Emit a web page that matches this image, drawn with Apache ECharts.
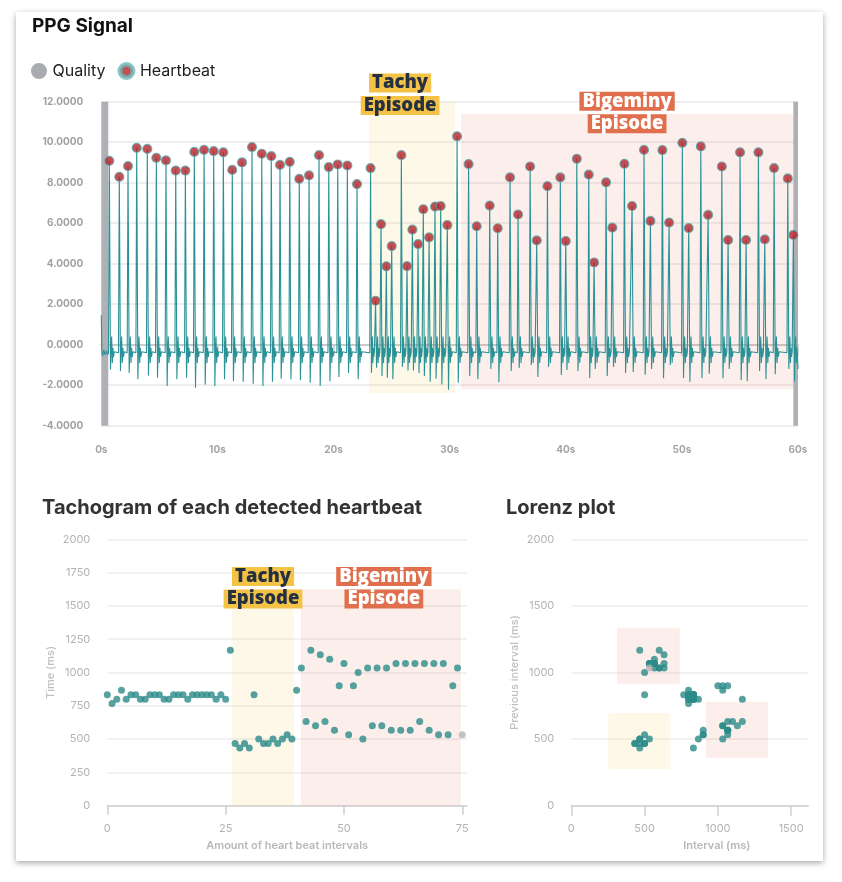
<!DOCTYPE html>
<html>
<head>
<meta charset="utf-8">
<script src="https://cdn.jsdelivr.net/npm/echarts@6/dist/echarts.min.js"></script>
<style>
    html, body { margin: 0; padding: 0; background: #fff; }
    #card { position: absolute; left: 16px; top: 12px; width: 807px; height: 849px; background: #fff; box-shadow: 0 2px 6px rgba(0, 0, 0, 0.35); }
    #main { position: absolute; left: 0; top: 0; width: 842px; height: 882px; }
</style>
</head>
<body>
<div id="card"></div>
<div id="main"></div>
<script>
// PPG signal: detected heartbeat peaks (seconds / amplitude) and the trough after each one
const peakTimes = [
    0.69, 1.55, 2.30, 3.05, 3.96, 4.74, 5.57, 6.41, 7.24, 8.01, 8.85, 9.68, 10.51, 11.28,
    12.12, 12.98, 13.82, 14.64, 15.39, 16.23, 17.05, 17.89, 18.75, 19.59, 20.36, 21.19, 22.02, 23.19,
    23.62, 24.09, 24.55, 25.01, 25.84, 26.33, 26.79, 27.28, 27.73, 28.23, 28.74, 29.23, 29.80, 30.64,
    31.63, 32.33, 33.45, 34.14, 35.20, 35.89, 36.93, 37.50, 38.42, 39.53, 40.00, 40.95, 41.98, 42.44,
    43.47, 44.01, 45.05, 45.71, 46.74, 47.29, 48.32, 48.90, 50.04, 50.59, 51.63, 52.26, 53.44, 53.98,
    55.01, 55.53, 56.59, 57.14, 57.94, 59.12, 59.60
];
const peakValues = [
    9.08, 8.29, 8.82, 9.72, 9.67, 9.23, 9.10, 8.60, 8.60, 9.52, 9.62, 9.56, 9.50, 8.63,
    9.00, 9.76, 9.43, 9.31, 8.88, 9.03, 8.19, 8.36, 9.36, 8.77, 8.90, 8.85, 7.93, 8.72,
    2.17, 5.95, 3.87, 4.87, 9.36, 3.88, 5.68, 4.97, 6.69, 5.30, 6.82, 6.85, 5.91, 10.29,
    8.92, 5.85, 6.87, 5.75, 8.26, 6.43, 8.80, 5.15, 7.83, 8.26, 5.12, 9.18, 8.40, 4.06,
    8.02, 5.78, 8.93, 6.85, 9.62, 6.11, 9.61, 6.03, 9.97, 5.76, 9.79, 6.41, 8.80, 5.17,
    9.50, 5.17, 9.50, 5.20, 8.72, 8.21, 5.42
];
const troughValues = [
    -1.22, -1.30, -1.40, -1.71, -1.52, -1.63, -2.04, -1.71, -1.63, -2.12, -1.96, -2.04, -1.71, -1.80,
    -1.83, -1.93, -2.04, -1.83, -1.68, -1.71, -1.76, -1.88, -2.04, -1.80, -1.60, -1.40, -1.71, -1.38,
    -1.14, -1.55, -1.63, -1.71, -1.10, -1.27, -1.27, -1.40, -1.55, -1.83, -1.68, -1.96, -2.22, -1.88,
    -1.55, -1.71, -1.20, -1.85, -1.30, -1.15, -1.00, -1.60, -1.10, -1.50, -1.25, -1.30, -1.65, -1.20,
    -1.55, -1.10, -1.40, -1.35, -1.48, -1.20, -1.66, -1.00, -1.64, -1.83, -1.64, -1.43, -1.66, -1.20,
    -1.76, -1.81, -1.30, -1.69, -1.46, -1.20, -1.80
];
// signal start before the first beat, and the small wave after each trough
const leadIn = [[0, 1.45], [0.05, -0.4], [0.12, -0.55], [0.22, -0.25], [0.32, -0.5], [0.45, -0.3], [0.55, -0.5]];
const notchDt = [0.15, 0.2, 0.26, 0.31, 0.36, 0.43];
const notchV = [-0.35, 0.4, -0.9, -0.15, -0.6, -0.35];
const restLevel = -0.4;

// beat-to-beat intervals (ms); the last one is flagged as poor quality
const intervals = [
    833, 767, 800, 867, 800, 833, 833, 800, 800, 833, 833, 833, 800, 800, 833, 833, 833, 800, 833, 833,
    833, 833, 833, 800, 833, 800, 1167, 467, 433, 467, 433, 833, 500, 467, 467, 500, 467, 500, 533, 500,
    867, 1033, 633, 1167, 600, 1133, 633, 1100, 567, 900, 1067, 533, 900, 1000, 500, 1033, 600, 1033, 600, 1033,
    567, 1067, 567, 1067, 567, 1067, 633, 1067, 567, 1067, 533, 1067, 533, 900, 1033, 533
];
const poorQuality = [75];

const ppgYRange = [-4, 12];
const tachoTicks = [0, 25, 50, 75];
const lorenzTicks = [0, 500, 1000, 1500];

const TEAL = '#2b8b89';
const FONT = 'Inter, "Noto Sans", sans-serif';
const LABEL_FONT = '"Open Sans", Lato, sans-serif';

// build the waveform polyline from the beats
var signal = leadIn.slice();
for (var i = 0; i < peakTimes.length; i++) {
    var t = peakTimes[i];
    var next = i + 1 < peakTimes.length ? peakTimes[i + 1] : 60.5;
    var k = Math.min(1, (next - t - 0.1) / 0.43);
    signal.push([t - 0.07, restLevel]);
    signal.push([t, peakValues[i]]);
    signal.push([t + 0.1 * k, troughValues[i]]);
    for (var j = 0; j < notchDt.length; j++) {
        signal.push([t + notchDt[j] * k, notchV[j]]);
    }
}
signal = signal.filter(function (p) { return p[0] <= 60; });
signal.push([60, -1.2]);

var peaks = peakTimes.map(function (t, i) { return [t, peakValues[i]]; });
var tacho = intervals.map(function (v, i) { return [i, v]; });
var lorenz = [];
for (var n = 1; n < intervals.length; n++) {
    lorenz.push({ value: [intervals[n], intervals[n - 1]], poor: poorQuality.indexOf(n) >= 0 });
}

function episodeLabel(word, bg, fg, dx, dy) {
    return {
        show: true,
        position: 'insideTop',
        distance: 0,
        offset: [dx, dy],
        formatter: '{a|' + word + '}\n{a|Episode}',
        rich: {
            a: {
                backgroundColor: bg, color: fg, fontSize: 18.5, fontWeight: 800,
                fontFamily: LABEL_FONT, lineHeight: 22.5, padding: [0, 3]
            }
        }
    };
}
var tachyBg = 'rgba(243, 194, 70, 0.12)';
var bigemBg = 'rgba(224, 112, 77, 0.11)';

function plain(v) { return String(v); }
var axisLabelGrey = { color: '#b3b3b3', fontSize: 11, fontFamily: FONT, margin: 17, formatter: plain };

var chart = echarts.init(document.getElementById('main'));
var option = {
    animation: false,
    title: [
        { text: 'PPG Signal', left: 27, top: 12, textStyle: { fontSize: 19, fontWeight: 'bold', color: '#111', fontFamily: FONT } },
        { text: 'Tachogram of each detected heartbeat', left: 37, top: 493, textStyle: { fontSize: 20, fontWeight: 'bold', color: '#333', fontFamily: FONT } },
        { text: 'Lorenz plot', left: 501, top: 493, textStyle: { fontSize: 20, fontWeight: 'bold', color: '#333', fontFamily: FONT } }
    ],
    legend: {
        left: 26, top: 57, icon: 'circle', itemWidth: 13, itemHeight: 13, itemGap: 12,
        textStyle: { fontSize: 16, color: '#1e1e1e', fontFamily: FONT, padding: [0, 0, 0, 2] },
        data: [
            { name: 'Quality', itemStyle: { borderWidth: 3, borderColor: '#a9abb0' } },
            { name: 'Heartbeat', itemStyle: { borderWidth: 5, borderColor: '#6cb6b8' } }
        ]
    },
    grid: [
        { left: 101.3, top: 101.7, width: 696.7, height: 324 },
        { left: 107.3, top: 539.3, width: 359.7, height: 266.4 },
        { left: 571.3, top: 539.3, width: 237, height: 266.4 }
    ],
    xAxis: [
        {
            gridIndex: 0, type: 'value', min: 0, max: 60, interval: 10,
            axisLine: { lineStyle: { color: '#c9cacd', width: 2 } },
            axisTick: { length: 11, lineStyle: { color: '#c9cacd', width: 1.5 } },
            axisLabel: { formatter: '{value}s', color: '#a4a4a4', fontSize: 10, fontWeight: 'bold', fontFamily: FONT, margin: 19 },
            splitLine: { show: false }
        },
        {
            gridIndex: 1, type: 'value', min: 0, max: 76, interval: 25,
            name: 'Amount of heart beat intervals', nameLocation: 'middle', nameGap: 34,
            nameTextStyle: { color: '#b8b8b8', fontSize: 11, fontWeight: 600, fontFamily: FONT },
            axisLine: { lineStyle: { color: '#cfcfd2', width: 1.5 } },
            axisTick: { length: 9, customValues: tachoTicks, lineStyle: { color: '#cfcfd2', width: 1.5 } },
            axisLabel: Object.assign({ customValues: tachoTicks }, axisLabelGrey),
            splitLine: { show: false }
        },
        {
            gridIndex: 2, type: 'value', min: 0, max: 1617, interval: 500,
            name: 'Interval (ms)', nameLocation: 'middle', nameGap: 34,
            nameTextStyle: { color: '#b8b8b8', fontSize: 11, fontWeight: 600, fontFamily: FONT, padding: [0, 0, 0, 54] },
            axisLine: { lineStyle: { color: '#cfcfd2', width: 1.5 } },
            axisTick: { length: 10, customValues: lorenzTicks, lineStyle: { color: '#cfcfd2', width: 1.5 } },
            axisLabel: Object.assign({ customValues: lorenzTicks }, axisLabelGrey),
            splitLine: { show: false }
        }
    ],
    yAxis: [
        {
            gridIndex: 0, type: 'value', min: ppgYRange[0], max: ppgYRange[1], interval: 2,
            axisLine: { show: false }, axisTick: { show: false },
            axisLabel: { formatter: function (v) { return v.toFixed(4); }, color: '#a0a0a0', fontSize: 10, fontWeight: 'bold', fontFamily: FONT, margin: 18 },
            splitLine: { lineStyle: { color: '#e9e9ec', width: 1.5 } }
        },
        {
            gridIndex: 1, type: 'value', min: 0, max: 2000, interval: 250,
            name: 'Time (ms)', nameLocation: 'middle', nameGap: 51,
            nameTextStyle: { color: '#c0c0c0', fontSize: 11, fontWeight: 500, fontFamily: FONT },
            axisLine: { show: false }, axisTick: { show: false },
            axisLabel: axisLabelGrey,
            splitLine: { lineStyle: { color: '#ededed', width: 1.5 } }
        },
        {
            gridIndex: 2, type: 'value', min: 0, max: 2000, interval: 500,
            name: 'Previous interval (ms)', nameLocation: 'middle', nameGap: 51,
            nameTextStyle: { color: '#c0c0c0', fontSize: 11, fontWeight: 500, fontFamily: FONT },
            axisLine: { show: false }, axisTick: { show: false },
            axisLabel: axisLabelGrey,
            splitLine: { lineStyle: { color: '#ededed', width: 1.5 } }
        }
    ],
    series: [
        {
            name: 'Quality', type: 'line', xAxisIndex: 0, yAxisIndex: 0, data: [],
            itemStyle: { color: '#a9abb0' }, silent: true,
            markArea: {
                silent: true,
                itemStyle: { color: '#aeb0b4' },
                data: [
                    [{ xAxis: 0 }, { xAxis: 0.6 }],
                    [{ xAxis: 59.6 }, { xAxis: 60 }]
                ]
            }
        },
        {
            name: 'PPG', type: 'line', xAxisIndex: 0, yAxisIndex: 0, data: signal,
            showSymbol: false, clip: false, z: 3,
            lineStyle: { color: '#2a9297', width: 1.1 },
            markArea: {
                silent: true,
                data: [
                    [{ xAxis: 23.06, yAxis: 12.28, itemStyle: { color: tachyBg }, label: episodeLabel('Tachy', '#f3c246', '#253041', -12, -30) },
                     { xAxis: 30.47, yAxis: -2.39 }],
                    [{ xAxis: 30.98, yAxis: 11.39, itemStyle: { color: bigemBg }, label: episodeLabel('Bigeminy', '#e0704d', '#ffffff', 0, -24) },
                     { xAxis: 59.58, yAxis: -2.19 }]
                ]
            }
        },
        {
            name: 'Heartbeat', type: 'scatter', xAxisIndex: 0, yAxisIndex: 0, data: peaks,
            symbolSize: 9, z: 4,
            itemStyle: { color: '#b3232a', borderColor: '#5aa9ac', borderWidth: 1.2 }
        },
        {
            name: 'Tachogram', type: 'scatter', xAxisIndex: 1, yAxisIndex: 1, data: tacho,
            symbolSize: 7,
            itemStyle: { color: function (p) { return poorQuality.indexOf(p.dataIndex) >= 0 ? '#b4b4b4' : TEAL; } },
            markArea: {
                silent: true,
                data: [
                    [{ xAxis: 26.3, yAxis: 1625, itemStyle: { color: tachyBg }, label: episodeLabel('Tachy', '#f3c246', '#253041', 0, -24) },
                     { xAxis: 39.5, yAxis: 0 }],
                    [{ xAxis: 40.9, yAxis: 1625, itemStyle: { color: bigemBg }, label: episodeLabel('Bigeminy', '#e0704d', '#ffffff', 3, -24) },
                     { xAxis: 74.7, yAxis: 0 }]
                ]
            }
        },
        {
            name: 'Lorenz', type: 'scatter', xAxisIndex: 2, yAxisIndex: 2, data: lorenz,
            symbolSize: 7,
            itemStyle: { color: function (p) { return p.data.poor ? '#b4b4b4' : TEAL; } },
            markArea: {
                silent: true,
                data: [
                    [{ xAxis: 312, yAxis: 1336, itemStyle: { color: bigemBg } }, { xAxis: 740, yAxis: 916 }],
                    [{ xAxis: 919, yAxis: 781, itemStyle: { color: bigemBg } }, { xAxis: 1342, yAxis: 360 }],
                    [{ xAxis: 252, yAxis: 696, itemStyle: { color: tachyBg } }, { xAxis: 675, yAxis: 276 }]
                ]
            }
        }
    ]
};
chart.setOption(option);
</script>
</body>
</html>
